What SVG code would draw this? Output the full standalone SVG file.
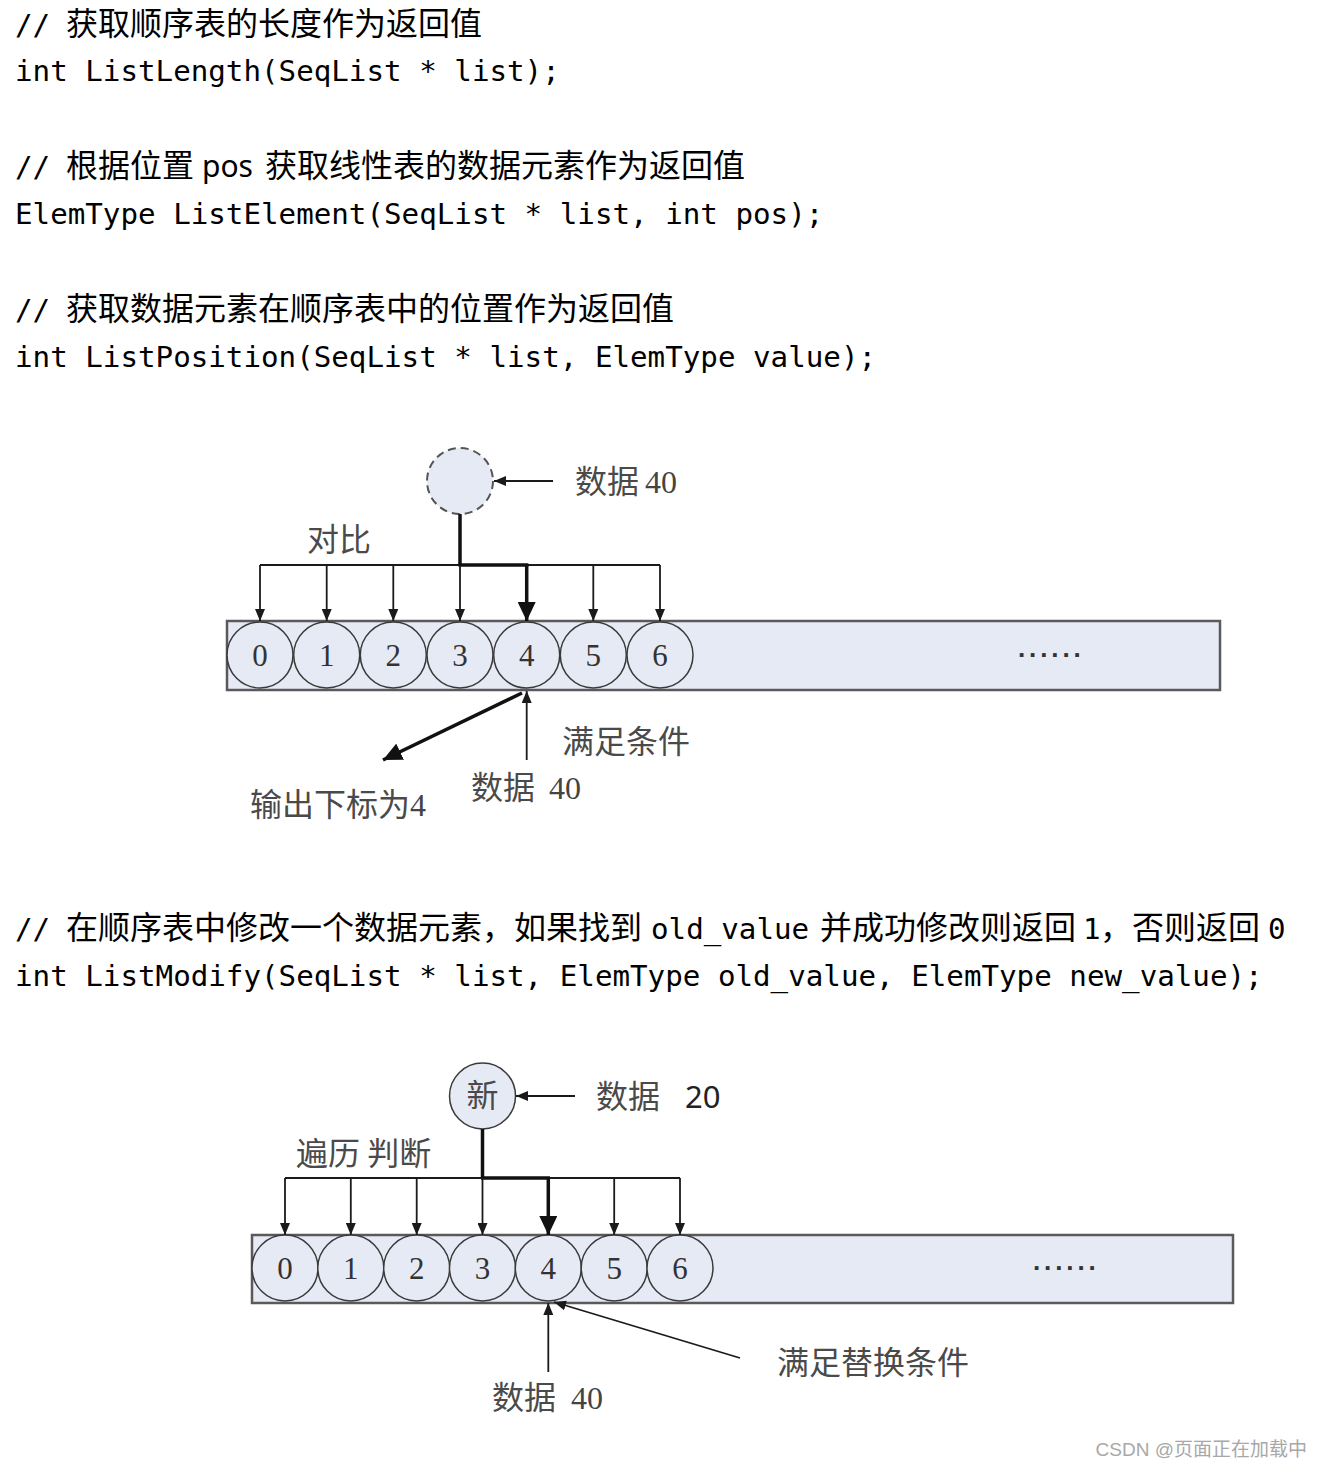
<svg xmlns="http://www.w3.org/2000/svg" width="1322" height="1468" viewBox="0 0 1322 1468">
<style>
.mono{font-family:"DejaVu Sans Mono","Liberation Mono",monospace;font-size:29.2px;fill:#000}
.cjk{font-family:"Noto Sans CJK SC","Noto Sans",sans-serif;font-size:32px;fill:#000}
.pro{font-family:"Noto Sans","Noto Sans CJK SC",sans-serif;font-size:30px;fill:#000}
.lbl{font-family:"Liberation Serif","Noto Sans CJK SC",serif;font-size:32px;fill:#444}
.lblc{font-family:"Noto Sans CJK SC",sans-serif;font-size:32px;fill:#4a4a4a}
.dig{font-family:"Liberation Serif",serif;font-size:31px;fill:#333;text-anchor:middle}
.cell{fill:#e6eaf5;stroke:#3a3a3a;stroke-width:1.5}
.bar{fill:#e6eaf5;stroke:#5a5a5a;stroke-width:2.5}
.thin{stroke:#1a1a1a;stroke-width:1.8;fill:none}
.thick{stroke:#111;stroke-width:3.5;fill:none}
.dots{font-family:"Liberation Sans",sans-serif;font-weight:bold;font-size:26px;letter-spacing:3.9px;fill:#333}
</style>
<defs>
<marker id="ah" markerWidth="12" markerHeight="10" refX="12" refY="5" orient="auto" markerUnits="userSpaceOnUse"><path d="M0,0 L12,5 L0,10 z" fill="#1a1a1a"/></marker>
<marker id="ahb" markerWidth="19" markerHeight="18" refX="19" refY="9" orient="auto" markerUnits="userSpaceOnUse"><path d="M0,0 L19,9 L0,18 z" fill="#111"/></marker>
</defs>
<rect width="1322" height="1468" fill="#fff"/>

<g id="code">
<text x="15" y="35"><tspan class="mono">//</tspan><tspan class="cjk" x="66">获取顺序表的长度作为返回值</tspan></text>
<text class="mono" x="15" y="81">int ListLength(SeqList * list);</text>
<text x="15" y="177"><tspan class="mono">//</tspan><tspan class="cjk" x="66">根据位置</tspan><tspan class="pro" x="202">pos</tspan><tspan class="cjk" x="265">获取线性表的数据元素作为返回值</tspan></text>
<text class="mono" x="15" y="224">ElemType ListElement(SeqList * list, int pos);</text>
<text x="15" y="320"><tspan class="mono">//</tspan><tspan class="cjk" x="66">获取数据元素在顺序表中的位置作为返回值</tspan></text>
<text class="mono" x="15" y="367">int ListPosition(SeqList * list, ElemType value);</text>
<text x="15" y="939"><tspan class="mono">//</tspan><tspan class="cjk" x="66">在顺序表中修改一个数据元素，如果找到</tspan><tspan class="mono" x="651">old_value</tspan><tspan class="cjk" x="820">并成功修改则返回</tspan><tspan class="mono" x="1083">1</tspan><tspan class="cjk" x="1100">，否则返回</tspan><tspan class="mono" x="1268">0</tspan></text>
<text class="mono" x="15" y="986">int ListModify(SeqList * list, ElemType old_value, ElemType new_value);</text>
</g>

<!-- Top diagram -->
<g id="list1">
<rect class="bar" x="227" y="621" width="993" height="69"/>
<text class="dots" x="1018" y="657">......</text>
</g>
<g id="cells1">
<g id="c1-0"><circle class="cell" cx="260" cy="655" r="33"/><text class="dig" x="260" y="666">0</text></g>
<g id="c1-1"><circle class="cell" cx="326.7" cy="655" r="33"/><text class="dig" x="326.7" y="666">1</text></g>
<g id="c1-2"><circle class="cell" cx="393.3" cy="655" r="33"/><text class="dig" x="393.3" y="666">2</text></g>
<g id="c1-3"><circle class="cell" cx="460" cy="655" r="33"/><text class="dig" x="460" y="666">3</text></g>
<g id="c1-4"><circle class="cell" cx="526.7" cy="655" r="33"/><text class="dig" x="526.7" y="666">4</text></g>
<g id="c1-5"><circle class="cell" cx="593.3" cy="655" r="33"/><text class="dig" x="593.3" y="666">5</text></g>
<g id="c1-6"><circle class="cell" cx="660" cy="655" r="33"/><text class="dig" x="660" y="666">6</text></g>
</g>
<g id="probe1"><circle cx="460" cy="481" r="33" fill="#e6eaf5" stroke="#555" stroke-width="2" stroke-dasharray="8 5"/></g>
<g id="labels1">
<text x="575" y="493"><tspan class="lblc">数据</tspan><tspan class="lbl" x="645">40</tspan></text>
<text class="lblc" x="307" y="551">对比</text>
<text class="lblc" x="562" y="753">满足条件</text>
<text x="471" y="799"><tspan class="lblc">数据</tspan><tspan class="lbl" x="549">40</tspan></text>
<text x="250" y="816"><tspan class="lblc">输出下标为</tspan><tspan class="lbl">4</tspan></text>
</g>
<g id="connectors1">
<line class="thin" x1="553" y1="481" x2="494" y2="481" marker-end="url(#ah)"/>
<line class="thick" x1="460" y1="514" x2="460" y2="565"/>
<line class="thin" x1="260" y1="565" x2="660" y2="565"/>
<line class="thick" x1="458.5" y1="565" x2="528.4" y2="565"/>
<line class="thin" x1="260" y1="565" x2="260" y2="621" marker-end="url(#ah)"/>
<line class="thin" x1="326.7" y1="565" x2="326.7" y2="621" marker-end="url(#ah)"/>
<line class="thin" x1="393.3" y1="565" x2="393.3" y2="621" marker-end="url(#ah)"/>
<line class="thin" x1="460" y1="565" x2="460" y2="621" marker-end="url(#ah)"/>
<line class="thick" x1="526.7" y1="565" x2="526.7" y2="621" marker-end="url(#ahb)"/>
<line class="thin" x1="593.3" y1="565" x2="593.3" y2="621" marker-end="url(#ah)"/>
<line class="thin" x1="660" y1="565" x2="660" y2="621" marker-end="url(#ah)"/>
<line class="thin" x1="526.7" y1="760" x2="526.7" y2="691" marker-end="url(#ah)"/>
<line class="thick" x1="522" y1="693" x2="383" y2="760" marker-end="url(#ahb)"/>
</g>

<!-- Bottom diagram -->
<g id="list2">
<rect class="bar" x="252" y="1235" width="981" height="68"/>
<text class="dots" x="1033" y="1270">......</text>
</g>
<g id="cells2">
<g id="c2-0"><circle class="cell" cx="285" cy="1268" r="33"/><text class="dig" x="285" y="1279">0</text></g>
<g id="c2-1"><circle class="cell" cx="350.8" cy="1268" r="33"/><text class="dig" x="350.8" y="1279">1</text></g>
<g id="c2-2"><circle class="cell" cx="416.7" cy="1268" r="33"/><text class="dig" x="416.7" y="1279">2</text></g>
<g id="c2-3"><circle class="cell" cx="482.5" cy="1268" r="33"/><text class="dig" x="482.5" y="1279">3</text></g>
<g id="c2-4"><circle class="cell" cx="548.3" cy="1268" r="33"/><text class="dig" x="548.3" y="1279">4</text></g>
<g id="c2-5"><circle class="cell" cx="614.2" cy="1268" r="33"/><text class="dig" x="614.2" y="1279">5</text></g>
<g id="c2-6"><circle class="cell" cx="680" cy="1268" r="33"/><text class="dig" x="680" y="1279">6</text></g>
</g>
<g id="newnode"><circle class="cell" cx="482.5" cy="1096" r="33"/><text class="lblc" x="482.5" y="1107" text-anchor="middle" font-size="30">新</text></g>
<g id="labels2">
<text x="596" y="1108"><tspan class="lblc">数据</tspan><tspan x="685" font-family="Noto Sans, sans-serif" font-size="31" fill="#222">20</tspan></text>
<text class="lblc" x="296" y="1165">遍历 判断</text>
<text class="lblc" x="777" y="1374">满足替换条件</text>
<text x="492" y="1409"><tspan class="lblc">数据</tspan><tspan class="lbl" x="571">40</tspan></text>
</g>
<g id="connectors2">
<line class="thin" x1="575" y1="1096" x2="516" y2="1096" marker-end="url(#ah)"/>
<line class="thick" x1="482.5" y1="1129" x2="482.5" y2="1178"/>
<line class="thin" x1="285" y1="1178" x2="680" y2="1178"/>
<line class="thick" x1="481" y1="1178" x2="550" y2="1178"/>
<line class="thin" x1="285" y1="1178" x2="285" y2="1235" marker-end="url(#ah)"/>
<line class="thin" x1="350.8" y1="1178" x2="350.8" y2="1235" marker-end="url(#ah)"/>
<line class="thin" x1="416.7" y1="1178" x2="416.7" y2="1235" marker-end="url(#ah)"/>
<line class="thin" x1="482.5" y1="1178" x2="482.5" y2="1235" marker-end="url(#ah)"/>
<line class="thick" x1="548.3" y1="1178" x2="548.3" y2="1235" marker-end="url(#ahb)"/>
<line class="thin" x1="614.2" y1="1178" x2="614.2" y2="1235" marker-end="url(#ah)"/>
<line class="thin" x1="680" y1="1178" x2="680" y2="1235" marker-end="url(#ah)"/>
<line class="thin" x1="548.3" y1="1372" x2="548.3" y2="1303" marker-end="url(#ah)"/>
<line class="thin" x1="740" y1="1358" x2="554" y2="1302" marker-end="url(#ah)"/>
</g>

<text x="1307" y="1456" text-anchor="end" font-family="Liberation Sans, Noto Sans CJK SC, sans-serif" font-size="19" fill="#a8a8a8">CSDN @页面正在加载中</text>
</svg>
